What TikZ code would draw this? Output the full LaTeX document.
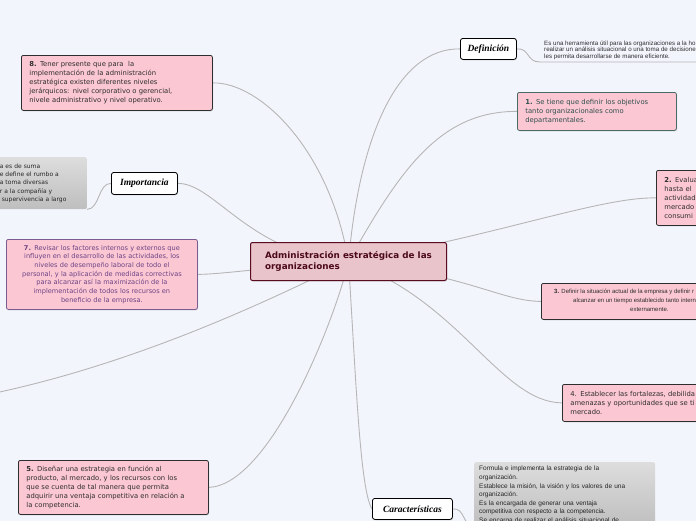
\documentclass[tikz,border=0pt]{standalone}
\usepackage{fontspec}
\setmainfont{DejaVu Sans}
\newfontfamily\notefont{Liberation Sans}
\newfontfamily\tagfont{Liberation Serif}
\usepackage{xcolor}
\definecolor{canvas}{HTML}{F3F5FD}
\definecolor{linkgray}{HTML}{B6B6B6}
\definecolor{petal}{HTML}{FBC7D3}
\definecolor{rosecore}{HTML}{E9C4CB}
\definecolor{wine}{HTML}{5A0B1F}
\definecolor{plumtext}{HTML}{6C4384}
\definecolor{plumline}{HTML}{7C5C90}
\definecolor{slate}{HTML}{2F4F4D}
\definecolor{slateline}{HTML}{4A6A66}
\definecolor{inkgray}{HTML}{2E2E2E}
\definecolor{notetop}{HTML}{DDDDDD}
\definecolor{notebot}{HTML}{BEBEBE}
\usetikzlibrary{positioning,shadows}
\pgfdeclarelayer{links}
\pgfsetlayers{links,main}

\tikzset{
	softshadow/.style={drop shadow={shadow xshift=0.7pt, shadow yshift=-0.9pt, opacity=0.3}},
	corebox/.style={draw=wine, fill=rosecore, line width=1pt, rounded corners=2pt, align=left,
		text=wine!85!black, font=\bfseries\fontsize{8.8}{11}\selectfont, softshadow},
	petalbox/.style={draw=inkgray, fill=petal, line width=0.8pt, rounded corners=2pt, align=left,
		inner xsep=8pt, inner ysep=3pt, text=inkgray, font=\fontsize{6.8}{9}\selectfont, softshadow},
	tagbox/.style={draw=black, fill=white, line width=0.8pt, rounded corners=2.5pt, inner sep=0pt,
		font=\tagfont\bfseries\itshape\fontsize{9.5}{11}\selectfont, softshadow},
	notebox/.style={top color=notetop, bottom color=notebot, rounded corners=2pt, align=left,
		inner xsep=3pt, inner ysep=4pt, text=black!85},
	link/.style={linkgray, line width=0.9pt},
}

\begin{document}
\begin{tikzpicture}[x=1pt, y=-1pt]
	\useasboundingbox (0,0) rectangle (696,520);

	% ================= central topic =================
	\node[corebox, minimum width=196pt, minimum height=38pt, anchor=north west] (core) at (250,242)
		{Administración estratégica de las\\organizaciones};

	% ================= left branches =================
	\node[petalbox, text width=175pt, minimum height=55pt, anchor=north west] (paso8) at (21,55)
		{\textbf{8.} Tener presente que para\ \ la\\implementación de la administración\\estratégica existen diferentes niveles\\jerárquicos: nivel corporativo o gerencial,\\nivele administrativo y nivel operativo.};

	\node[tagbox, minimum width=66pt, minimum height=22pt, anchor=north west] (impor) at (111,172) {Importancia};
	\node[notebox, text width=84pt, minimum height=52pt, anchor=north east, font=\fontsize{6}{8.2}\selectfont] (imponota) at (87,157)
		{a es de suma\\e define el rumbo a\\a toma diversas\\r a la compañía y\\\hspace*{2pt}supervivencia a largo};

	\node[petalbox, draw=plumline, fill=petal, text=plumtext, align=center, text width=175pt, minimum height=70pt,
		font=\fontsize{6.6}{8.7}\selectfont, anchor=north west] (paso7) at (6,239)
		{\textbf{7.} Revisar los factores internos y externos que\\influyen en el desarrollo de las actividades, los\\niveles de desempeño laboral de todo el\\personal, y la aplicación de medidas correctivas\\para alcanzar así la maximización de la\\implementación de todos los recursos en\\beneficio de la empresa.};

	\coordinate (paso6) at (-5,393); % branch leaving the page

	\node[petalbox, text width=174pt, minimum height=54pt, anchor=north west] (paso5) at (18,460)
		{\textbf{5.} Diseñar una estrategia en función al\\producto, al mercado, y los recursos con los\\que se cuenta de tal manera que permita\\adquirir una ventaja competitiva en relación a\\la competencia.};

	% ================= right branches =================
	\node[tagbox, minimum width=56pt, minimum height=21pt, anchor=north west] (defin) at (460,38) {Definición};
	\node[text=inkgray, align=left, anchor=west, inner sep=1pt, font=\notefont\fontsize{6.2}{6.6}\selectfont] (definota) at (543,50)
		{Es una herramienta útil para las organizaciones a la ho\\realizar un análisis situacional o una toma de decisione\\les permita desarrollarse de manera eficiente.};
	\coordinate (definbase) at (540,62);

	\node[petalbox, draw=slateline, text=slate, text width=143pt, minimum height=38pt, anchor=north west] (paso1) at (517,92)
		{\textbf{1.} Se tiene que definir los objetivos\\tanto organizacionales como\\departamentales.};

	\node[petalbox, text width=120pt, minimum height=55pt, anchor=north west] (paso2) at (656,170)
		{\textbf{2.} Evalua\\hasta el\\actividad\\mercado\\consumi};

	\node[petalbox, minimum width=230pt, minimum height=36pt, anchor=north west] (paso3) at (541,283) {};
	\node[text=inkgray, anchor=west, inner sep=0pt, font=\notefont\fontsize{6}{9}\selectfont] (paso3a) at (554,292)
		{\textbf{3.} Definir la situación actual de la empresa y definir r};
	\node[text=inkgray, anchor=west, inner sep=0pt, font=\notefont\fontsize{6}{9}\selectfont] (paso3b) at (573,301)
		{alcanzar en un tiempo establecido tanto interna c};
	\node[text=inkgray, anchor=west, inner sep=0pt, font=\notefont\fontsize{6}{9}\selectfont] (paso3c) at (630,310)
		{externamente.};

	\node[petalbox, text width=180pt, minimum height=37pt, anchor=north west] (paso4) at (562,384)
		{4. Establecer las fortalezas, debilida\\amenazas y oportunidades que se ti\\mercado.};

	% ================= bottom branch =================
	\node[tagbox, minimum width=80pt, minimum height=21pt, anchor=north west] (carac) at (372,498) {Características};
	\node[notebox, text width=171pt, inner xsep=5pt, anchor=north west, font=\notefont\fontsize{6.5}{8.6}\selectfont] (caracnota) at (474,462)
		{Formula e implementa la estrategia de la\\organización.\\Establece la misión, la visión y los valores de una\\organización.\\Es la encargada de generar una ventaja\\competitiva con respecto a la competencia.\\Se encarga de realizar el análisis situacional de};

	% ================= connectors, behind the boxes =================
	\begin{pgfonlayer}{links}
		\fill[canvas] (-10,-10) rectangle (706,530);
		\draw[link] (core.center) .. controls (330,150) and (260,82) .. (paso8.east);
		\draw[link] (core.center) .. controls (250,255) and (215,183) .. (impor.east);
		\draw[link] (core.center) .. controls (260,268) and (225,274) .. (paso7.east);
		\draw[link] (core.center) .. controls (290,290) and (150,360) .. (paso6);
		\draw[link] (core.center) .. controls (335,320) and (270,485) .. (paso5.east);
		\draw[link] (core.center) .. controls (356,380) and (360,490) .. (carac.west);
		\draw[link] (core.center) .. controls (360,130) and (400,48) .. (defin.west);
		\draw[link] (core.center) .. controls (400,170) and (440,111) .. (paso1.west);
		\draw[link] (core.center) .. controls (500,235) and (600,197) .. (paso2.west);
		\draw[link] (core.center) .. controls (470,275) and (500,301) .. (paso3.west);
		\draw[link] (core.center) .. controls (460,300) and (500,402) .. (paso4.west);
		% topic to its note
		\draw[link] (impor.west) .. controls (98,183) and (100,209) .. (imponota.south east);
		\draw[link] (defin.east) .. controls (530,48) and (526,62) .. (definbase) -- (706,62);
		\draw[link] (carac.east) .. controls (465,508) and (462,524) .. (caracnota.south west);
	\end{pgfonlayer}

\end{tikzpicture}
\end{document}
